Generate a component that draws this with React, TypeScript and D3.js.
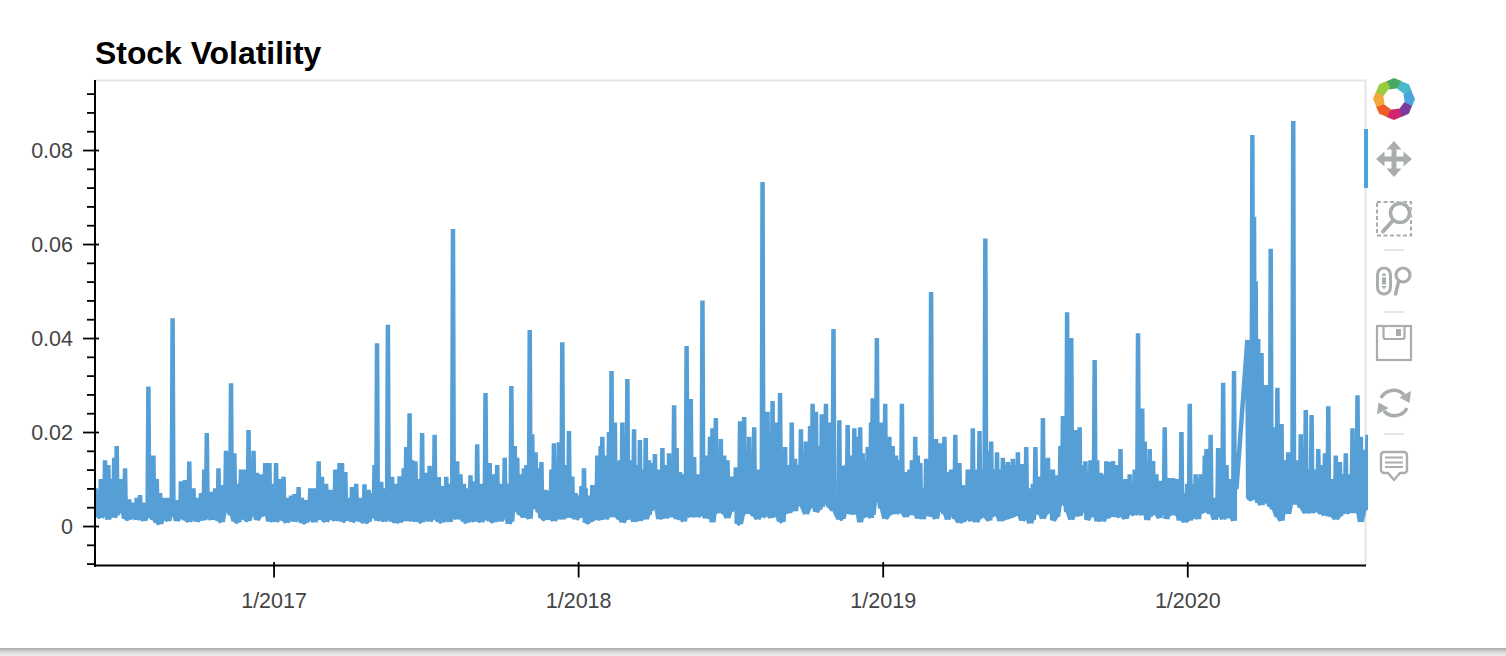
import { useEffect, useRef } from 'react';
import * as d3 from 'd3';

// each busy stretch is kept as its local high and the low next to it.
// days = days after 2016-06-01, highs and lows = volatility in thousandths
const days2016 = [
  1, 7, 12, 16, 19, 23, 26, 31, 36, 41,
  46, 50, 54, 59, 64, 70, 74, 78, 83, 88,
  93, 98, 103, 108, 113, 118, 122, 127, 131, 134,
  140, 144, 148, 152, 157, 163, 167, 172, 175, 179,
  184, 190, 194, 199, 204, 209,
];
const highs2016 = [
  8, 10, 14, 13, 10, 14.5, 17, 10, 12.3, 5.7,
  5, 6, 6.6, 5, 29.7, 15, 10, 7, 6, 6,
  44.2, 5.5, 9.5, 9.8, 13.7, 8, 6, 7, 12, 19.8,
  7.3, 8, 12.3, 8.7, 16, 30.4, 15.5, 9, 12, 12,
  20.4, 16, 11.3, 11, 13.4, 13.4,
];
const lows2016 = [
  2.4, 1.8, 2.8, 1.4, 3.5, 1.8, 2.4, 4.0, 1.6, 1.5,
  2.2, 1.4, 1.9, 1.2, 2.4, 1.5, 0.8, 0.5, 1.9, 1.1,
  3.5, 1.1, 2.2, 1.4, 1.0, 2.0, 1.0, 1.8, 1.3, 2.4,
  1.4, 2.2, 1.2, 0.9, 4.0, 2.4, 1.1, 0.8, 5.0, 1.4,
  1.2, 3.5, 1.3, 2.2, 3.0, 1.0,
];

const days2017 = [
  214, 217, 222, 226, 230, 235, 239, 244, 248, 253,
  258, 263, 268, 272, 277, 282, 288, 293, 296, 300,
  304, 308, 313, 318, 323, 328, 331, 335, 338, 343,
  347, 351, 356, 361, 365, 370, 373, 377, 380, 384,
  388, 392, 396, 401, 407, 412, 416, 421, 425, 429,
  434, 438, 442, 446, 450, 455, 458, 463, 468, 473,
  478, 482, 486, 491, 496, 499, 503, 506, 510, 514,
  517, 521, 524, 528, 532, 535, 540, 544, 547, 550,
  556, 560, 564, 568, 572, 576,
];
const highs2017 = [
  9, 13.4, 10, 10.5, 6, 6.5, 6.8, 8.3, 6, 5.5,
  8, 8, 13.8, 10.5, 9, 7.7, 12, 13.4, 13.4, 11.5,
  6, 8.3, 9, 6, 8.9, 7.7, 7, 13, 38.9, 9.4,
  8, 42.8, 10.5, 9, 10.6, 12.3, 16.8, 24, 14, 13.8,
  10, 19.8, 11.3, 12.8, 19.4, 10.4, 8.5, 10.5, 9, 63.2,
  13.8, 11, 9, 8, 10.8, 9.5, 17.4, 9, 28.3, 13.4,
  11, 13, 9, 14.5, 9, 29.8, 17, 14.5, 11, 12.3,
  13, 41.7, 19.5, 15.7, 12.3, 13.6, 7.7, 7.5, 12, 17.6,
  17.8, 39.1, 13, 20.2, 10.5, 7,
];
const lows2017 = [
  1.6, 0.9, 2.2, 1.2, 0.8, 2.0, 1.0, 1.9, 0.7, 0.9,
  1.8, 0.9, 2.2, 1.4, 1.0, 2.0, 1.2, 2.1, 1.0, 1.2,
  2.4, 0.9, 1.6, 1.2, 0.8, 1.0, 1.9, 2.4, 1.2, 1.8,
  1.0, 2.0, 1.1, 1.0, 0.9, 1.6, 1.1, 2.2, 1.0, 1.7,
  1.0, 0.9, 2.0, 1.1, 2.1, 1.0, 0.9, 1.8, 0.9, 2.4,
  1.5, 2.4, 1.0, 0.8, 1.7, 1.0, 1.5, 0.9, 2.0, 1.2,
  0.9, 2.2, 1.0, 2.6, 0.5, 1.0, 7, 3.0, 2.5, 1.9,
  2.2, 1.6, 4.2, 4.0, 3.0, 1.7, 1.4, 2.2, 1.4, 1.2,
  2.2, 1.5, 2.4, 1.9, 2.4, 1.5,
];

const days2018 = [
  580, 583, 586, 588, 593, 596, 600, 602, 606, 608,
  612, 616, 619, 623, 625, 629, 632, 636, 638, 642,
  646, 649, 653, 656, 660, 664, 666, 671, 676, 680,
  684, 688, 691, 694, 697, 701, 706, 709, 714, 718,
  722, 728, 732, 737, 740, 744, 748, 750, 754, 758,
  762, 764, 768, 770, 773, 778, 781, 784, 790, 794,
  798, 800, 806, 810, 812, 817, 821, 824, 827, 832,
  835, 839, 842, 846, 852, 857, 860, 864, 868, 871,
  876, 880, 885, 892, 896, 900, 902, 906, 910, 913,
  917, 920, 924, 926, 930, 932, 937, 942,
];
const highs2018 = [
  6.5, 8.5, 12.3, 8, 6.5, 8.7, 8.7, 15, 17, 19,
  15, 20, 33, 22, 13.4, 14, 22, 16, 31.3, 14,
  20.6, 13, 18.3, 12, 18.7, 14, 13.4, 15.3, 12, 16.6,
  13, 15.5, 13, 25.7, 16.6, 11.5, 11, 38.3, 27, 14.7,
  11, 48, 15, 19, 20.8, 23, 15, 18.5, 15, 14,
  10.5, 10.5, 12.5, 10, 22.3, 23.2, 15, 19, 21, 12,
  12, 73.2, 24.3, 15, 26.6, 22, 28.3, 15, 16.8, 13,
  22, 14.3, 13, 20.6, 18, 21.3, 26, 24.3, 17, 23.8,
  26, 22, 41.9, 22.5, 12.8, 13, 21.5, 15, 20.8, 19,
  21, 15.5, 14, 16.8, 22, 27.2, 40, 22,
];
const lows2018 = [
  1.8, 2.6, 1.8, 0.7, 0.9, 1.6, 1.4, 2.0, 1.3, 2.4,
  1.5, 2.2, 2.0, 2.8, 1.9, 1.6, 0.8, 1.3, 1.5, 2.4,
  0.9, 1.8, 1.1, 2.0, 1.5, 2.4, 3.3, 5, 1.5, 2.2,
  1.7, 2.4, 1.9, 2.8, 1.5, 1.9, 1.0, 2.6, 2.0, 2.6,
  2.0, 2.8, 1.7, 2.6, 0.8, 3.6, 2.8, 3.6, 2.6, 1.7,
  3.0, 3.6, 3.9, 0.5, 0.5, 3.0, 2.6, 3.4, 2.2, 1.5,
  2.2, 1.9, 2.8, 1.7, 2.6, 2.2, 1.0, 0.9, 3.4, 2.8,
  4.2, 3.2, 4.8, 4.4, 2.6, 3.8, 7, 3.0, 3.6, 4.2,
  6, 4.0, 3.4, 1.5, 1.6, 3.2, 2.6, 3.3, 2.5, 3.1,
  0.8, 2.2, 2.0, 2.8, 1.7, 2.4, 8, 3.8,
];

const days2019 = [
  947, 952, 956, 960, 964, 967, 972, 976, 979, 983,
  986, 989, 992, 996, 998, 1002, 1008, 1013, 1018, 1022,
  1026, 1031, 1036, 1040, 1044, 1046, 1050, 1052, 1056, 1060,
  1063, 1067, 1072, 1074, 1078, 1081, 1085, 1088, 1092, 1094,
  1098, 1100, 1104, 1106, 1111, 1116, 1121, 1124, 1127, 1132,
  1136, 1140, 1142, 1146, 1148, 1153, 1157, 1160, 1165, 1170,
  1175, 1180, 1184, 1187, 1189, 1193, 1198, 1201, 1205, 1208,
  1212, 1217, 1220, 1224, 1229, 1235, 1240, 1246, 1250, 1255,
  1258, 1261, 1264, 1268, 1272, 1276, 1278, 1282, 1284, 1288,
  1292, 1296, 1300, 1302, 1306, 1309,
];
const highs2019 = [
  26, 19, 17, 15, 14, 26, 11.5, 12, 14, 19,
  15, 13.4, 8, 14.3, 12, 49.8, 18.5, 17.6, 19, 11.5,
  12, 19.4, 13.4, 8.7, 8, 12, 12, 20.8, 12, 20.2,
  12, 61.2, 16, 18, 12, 15.7, 12, 14.5, 13, 13.6,
  13, 14.3, 13, 15.7, 13.2, 16.8, 8, 9, 16.8, 10.5,
  23, 14, 14.5, 12, 12, 10.8, 17, 23.4, 45.5, 40,
  20.4, 21, 13, 13.8, 11, 14, 35.3, 14, 11.3, 11,
  13.8, 13.6, 13.8, 13, 16.4, 10, 11, 12, 41, 25,
  18, 11, 16.4, 13.8, 11, 9.6, 9.6, 21, 10, 10.2,
  10.2, 10, 9, 20, 7, 9,
];
const lows2019 = [
  1.6, 2.4, 3.6, 2.6, 3.4, 2.8, 2.0, 2.9, 2.4, 3.0,
  1.6, 2.2, 1.5, 2.8, 2.2, 2.6, 1.6, 4.6, 2.6, 1.4,
  3.4, 1.6, 0.8, 1.1, 1.4, 2.4, 1.0, 1.7, 0.9, 1.5,
  5, 1.8, 1.2, 2.0, 2.8, 2.2, 1.1, 1.8, 1.4, 2.2,
  1.7, 2.5, 2.2, 3.0, 1.2, 2.0, 0.6, 1.3, 3.4, 2.6,
  1.6, 2.5, 3.6, 2.8, 1.2, 2.0, 4.4, 8, 3.0, 1.4,
  2.8, 2.2, 3.8, 2.9, 1.3, 2.0, 3.4, 1.0, 1.7, 1.0,
  2.0, 2.0, 3.2, 2.0, 2.4, 1.6, 3.0, 2.4, 3.2, 2.4,
  2.8, 1.3, 2.1, 3.4, 2.4, 1.7, 2.4, 3.4, 1.5, 2.9,
  2.4, 2.9, 1.2, 1.9, 0.8, 1.4,
];

const days2020 = [
  1312, 1316, 1319, 1322, 1325, 1330, 1332, 1337, 1342, 1346,
  1352, 1356, 1360, 1362, 1365, 1367, 1381, 1387, 1389, 1391, 1394, 1398,
  1403, 1409, 1412, 1417, 1422, 1426, 1430, 1434, 1436, 1441,
  1445, 1451, 1454, 1458, 1463, 1466, 1470, 1474, 1478, 1482,
  1487, 1492, 1495, 1499, 1504, 1507, 1510, 1513, 1517, 1522,
  1525,
];
const highs2020 = [
  26, 9, 11, 10, 11, 15, 16.4, 19.4, 6, 16.6,
  30.5, 13, 10, 9, 33, 8, 39.6, 83.2, 65.8, 52, 39.8, 36.8,
  30, 59, 21, 29.4, 21.7, 14, 15.7, 15, 86.2, 14,
  19.5, 24.7, 12, 23.6, 12, 16.4, 13, 15.5, 25.5, 10,
  15, 13.6, 11, 15.5, 11, 20.8, 14, 27.8, 19, 16.2,
  19.4,
];
const lows2020 = [
  1.4, 1.8, 2.0, 1.5, 3.0, 3.2, 3.0, 3.0, 1.4, 2.8,
  1.5, 2.2, 2.0, 1.6, 1.1, 8, 6, 5.6, 6, 6, 5, 4.6,
  5.6, 4.2, 3.6, 2.0, 1.2, 4, 2.6, 4.5, 5, 5,
  4, 2.8, 3.2, 3.0, 3.4, 3.0, 2.8, 2.4, 2.6, 2.2,
  1.5, 2.2, 3, 3, 3, 3.2, 3.2, 3.0, 0.9, 3.4,
  6,
];

const yMajorTicks = [0, 0.02, 0.04, 0.06, 0.08];
const yMinorTicks = [
  -0.008, -0.004, 0.004, 0.008, 0.012, 0.016, 0.024, 0.028, 0.032, 0.036,
  0.044, 0.048, 0.052, 0.056, 0.064, 0.068, 0.072, 0.076, 0.084, 0.088, 0.092,
];
const xTickYears = [2017, 2018, 2019, 2020];
const logoColors = ['#4aa860', '#49b8c9', '#4aa3dc', '#7a3b9c', '#d0266f', '#ef5d2a', '#f4a83a', '#9acb3e'];

const FONT = '"Liberation Sans", Arial, sans-serif';
const LINE = '#559fd6';
const ICON = '#a9adae';
const DAY_MS = 86400000;
const START = Date.UTC(2016, 5, 1);

const days = [...days2016, ...days2017, ...days2018, ...days2019, ...days2020];
const highs = [...highs2016, ...highs2017, ...highs2018, ...highs2019, ...highs2020];
const lows = [...lows2016, ...lows2017, ...lows2018, ...lows2019, ...lows2020];

type Point = { date: Date; value: number };

// every high sits between its low on the day before and the day after;
// a high after a hole in the data joins straight from the last low
function buildSeries(): Point[] {
  const at = (d: number, v: number) => ({ date: new Date(START + d * DAY_MS), value: v / 1000 });
  const out: Point[] = [];
  days.forEach((d, i) => {
    if (i === 0 || d - days[i - 1] < 10) out.push(at(d - 1, lows[i]));
    out.push(at(d, highs[i]));
    out.push(at(d + 1, lows[i]));
  });
  return out;
}

function Logo() {
  return (
    <g transform="translate(1394,99)" filter="url(#logo-soft)">
      {logoColors.map((c, i) => (
        <path
          key={c}
          fill={c}
          transform={`rotate(${i * 45})`}
          d="M-5 -9.500L5.500 -11L7.500 -18L0 -21L-8 -17.500Z"
        />
      ))}
    </g>
  );
}

function Toolbar() {
  const seps = [250, 312, 434];
  return (
    <g>
      <Logo />
      <rect x={1364} y={129} width={4} height={59} fill="#4fa3dc" />
      {seps.map((y) => (
        <line key={y} x1={1384} x2={1404} y1={y} y2={y} stroke="#dcdcdc" strokeWidth={1.5} />
      ))}
      {/* pan */}
      <path
        fill={ICON}
        d="M1394 141l7.500 8.500h-5v7h7v-5l8.500 7.500-8.500 7.500v-5h-7v7h5l-7.500 8.500-7.500-8.500h5v-7h-7v5l-8.500-7.500 8.500-7.500v5h7v-7h-5z"
      />
      {/* box zoom */}
      <rect x={1377} y={202} width={34} height={33.500} fill="none" stroke={ICON} strokeWidth={2} strokeDasharray="4 2.500" />
      <circle cx={1400} cy={213} r={11.500} fill="#fff" />
      <circle cx={1400} cy={213} r={9.500} fill="none" stroke={ICON} strokeWidth={3.500} />
      <line x1={1392.500} y1={221} x2={1383} y2={231.500} stroke={ICON} strokeWidth={4} strokeLinecap="round" />
      {/* wheel zoom */}
      <rect x={1377.500} y={268} width={13} height={26} rx={6.500} fill="none" stroke={ICON} strokeWidth={3} />
      <path fill={ICON} d="M1384 272.500l2.500 3.500h-5zM1384 289.500l2.500-3.500h-5z" />
      <rect x={1382} y={277.500} width={4} height={7} fill={ICON} />
      <circle cx={1403} cy={275} r={7} fill="none" stroke={ICON} strokeWidth={3.200} />
      <line x1={1398.500} y1={282} x2={1395.500} y2={294} stroke={ICON} strokeWidth={3.500} strokeLinecap="round" />
      {/* save */}
      <rect x={1377} y={326} width={34} height={34} fill="none" stroke={ICON} strokeWidth={2.200} />
      <path d="M1383.500 326v11a2 2 0 0 0 2 2h17a2 2 0 0 0 2-2v-11" fill="none" stroke={ICON} strokeWidth={2.200} />
      <rect x={1396} y={329} width={5} height={7} fill={ICON} />
      {/* reset */}
      <path d="M1381 398a14 14 0 0 1 23-3M1407 408a14 14 0 0 1-23 3" fill="none" stroke={ICON} strokeWidth={3.500} />
      <path fill={ICON} d="M1411 391l-1.500 12-10-5.500zM1377 414.500l1.500-12 10 5.500z" />
      {/* hover */}
      <path
        d="M1384 452h20a3 3 0 0 1 3 3v15a3 3 0 0 1-3 3h-4l-6 7-6-7h-4a3 3 0 0 1-3-3v-15a3 3 0 0 1 3-3z"
        fill="none"
        stroke={ICON}
        strokeWidth={2.400}
      />
      <path d="M1385 457.500h18M1385 462.500h18M1385 467h18" stroke={ICON} strokeWidth={2} />
    </g>
  );
}

export default function App() {
  const ref = useRef<SVGGElement>(null);

  useEffect(() => {
    if (!ref.current) return;
    const g = d3.select(ref.current);
    g.selectAll('*').remove();

    const x = d3.scaleUtc().domain([new Date(START), new Date(Date.UTC(2020, 7, 1))]).range([95, 1365]);
    const y = d3.scaleLinear().domain([-0.0084, 0.0949]).range([565.5, 80]);

    // frame
    g.append('path')
      .attr('d', 'M95 80.500H1365.500V565')
      .attr('fill', 'none')
      .attr('stroke', '#e5e5e5')
      .attr('stroke-width', 2);

    const line = d3
      .line<Point>()
      .x((d) => x(d.date))
      .y((d) => y(d.value));

    g.append('path')
      .datum(buildSeries())
      .attr('clip-path', 'url(#plot-clip)')
      .attr('fill', 'none')
      .attr('stroke', LINE)
      .attr('stroke-width', 4.5)
      .attr('stroke-linejoin', 'bevel')
      .attr('d', line);

    // y axis, minor first so the major ticks sit on top
    g.append('g')
      .attr('transform', 'translate(95,0)')
      .call(d3.axisLeft(y).tickValues(yMinorTicks).tickSize(8).tickFormat(() => ''))
      .call((a) => a.select('.domain').remove())
      .selectAll('line')
      .attr('stroke', '#000')
      .attr('stroke-width', 1.8);

    const yAxis = g
      .append('g')
      .attr('transform', 'translate(95,0)')
      .call(
        d3
          .axisLeft(y)
          .tickValues(yMajorTicks)
          .tickSize(12)
          .tickPadding(10)
          .tickFormat((d) => (+d === 0 ? '0' : d3.format('.2f')(+d))),
      );
    yAxis.select('.domain').remove();
    yAxis.selectAll('line').attr('x2', -12).attr('x1', 4).attr('stroke', '#000').attr('stroke-width', 1.8);
    yAxis.selectAll('text').attr('fill', '#444').style('font', `21.500px ${FONT}`).attr('x', -22).attr('dy', '0.35em');

    const xAxis = g
      .append('g')
      .attr('transform', 'translate(0,565.500)')
      .call(
        d3
          .axisBottom(x)
          .tickValues(xTickYears.map((yr) => new Date(Date.UTC(yr, 0, 1))))
          .tickSize(12)
          .tickPadding(20)
          .tickFormat((d) => d3.utcFormat('%-m/%Y')(d as Date)),
      );
    xAxis.select('.domain').remove();
    xAxis.selectAll('line').attr('y1', -3.500).attr('y2', 12).attr('stroke', '#000').attr('stroke-width', 1.8);
    xAxis.selectAll('text').attr('fill', '#444').style('font', `21.500px ${FONT}`).attr('dy', 0).attr('y', 42.500);

    g.append('line').attr('x1', 95).attr('x2', 95).attr('y1', 80).attr('y2', 567).attr('stroke', '#000').attr('stroke-width', 2);
    g.append('line').attr('x1', 94).attr('x2', 1366).attr('y1', 565.500).attr('y2', 565.500).attr('stroke', '#000').attr('stroke-width', 2);
  }, []);

  return (
    <svg
      width={1506}
      height={656}
      style={{ position: 'fixed', left: 0, top: 0, background: '#fff' }}
    >
      <defs>
        <linearGradient id="page-edge" x1="0" x2="0" y1="0" y2="1">
          <stop offset="0" stopColor="#a8a8a8" />
          <stop offset="0.5" stopColor="#d8d8d8" />
          <stop offset="1" stopColor="#ececec" />
        </linearGradient>
        <clipPath id="plot-clip">
          <rect x={96} y={80} width={1272} height={486} />
        </clipPath>
        <filter id="logo-soft">
          <feGaussianBlur stdDeviation={0.6} />
        </filter>
      </defs>
      <text x={95} y={64} fontFamily={FONT} fontWeight="bold" fontSize={31.900} fill="#000">
        Stock Volatility
      </text>
      <g ref={ref} />
      <Toolbar />
      <rect x={0} y={648} width={1506} height={8} fill="url(#page-edge)" />
    </svg>
  );
}
